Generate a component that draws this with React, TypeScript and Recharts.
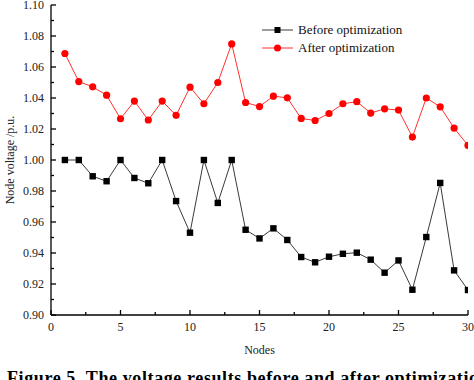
import { LineChart, Line, XAxis, YAxis, Legend } from "recharts";

const FONT = "'Liberation Serif', 'Times New Roman', serif";

// node voltage (p.u.) for nodes 1..30
const NODES = [
  1, 2, 3, 4, 5, 6, 7, 8, 9, 10, 11, 12, 13, 14, 15, 16, 17, 18, 19, 20, 21,
  22, 23, 24, 25, 26, 27, 28, 29, 30,
];
const BEFORE = [
  1.0, 1.0, 0.9895, 0.9863, 1.0, 0.9884, 0.985, 1.0, 0.9735, 0.9531, 1.0,
  0.9723, 1.0, 0.955, 0.9494, 0.9559, 0.9484, 0.9374, 0.934, 0.9376, 0.9395,
  0.9402, 0.9357, 0.9273, 0.9352, 0.9163, 0.9503, 0.9852, 0.9288, 0.9161,
];
const AFTER = [
  1.0687, 1.0506, 1.0472, 1.0418, 1.0266, 1.038, 1.0258, 1.038, 1.0288, 1.047,
  1.0363, 1.05, 1.0749, 1.0371, 1.0345, 1.0412, 1.0401, 1.0268, 1.0255, 1.03,
  1.0363, 1.0376, 1.0303, 1.033, 1.0322, 1.0148, 1.04, 1.0343, 1.0206, 1.0094,
];

const X_TICKS = [0, 2.5, 5, 7.5, 10, 12.5, 15, 17.5, 20, 22.5, 25, 27.5, 30];
const Y_TICKS = [
  0.9, 0.91, 0.92, 0.93, 0.94, 0.95, 0.96, 0.97, 0.98, 0.99, 1.0, 1.01, 1.02,
  1.03, 1.04, 1.05, 1.06, 1.07, 1.08, 1.09, 1.1,
];

const SERIES = [
  { key: "before", name: "Before optimization", color: "#3a3a3a", dotColor: "#000", shape: "square" },
  { key: "after", name: "After optimization", color: "#ff3030", dotColor: "#f00", shape: "circle" },
];

const data = NODES.map((node, i) => ({ node, before: BEFORE[i], after: AFTER[i] }));

function XTick(props: any) {
  const { x, y, payload } = props;
  const v = payload.value;
  const major = Number.isInteger(v);
  return (
    <g>
      <line x1={x} x2={x} y1={y} y2={y - (major ? 5 : 3)} stroke="#000" strokeWidth={1.3} />
      {major && (
        <text x={x} y={y + 16} textAnchor="middle" fontSize={12} fontFamily={FONT} fill="#222">
          {v}
        </text>
      )}
    </g>
  );
}

function YTick(props: any) {
  const { x, y, payload } = props;
  const v = payload.value;
  const major = Math.round(v * 100) % 2 === 0;
  return (
    <g>
      <line x1={x} x2={x + (major ? 5 : 3)} y1={y} y2={y} stroke="#000" strokeWidth={1.3} />
      {major && (
        <text x={x - 7} y={y} dy="0.35em" textAnchor="end" fontSize={12} fontFamily={FONT} fill="#222">
          {v.toFixed(2)}
        </text>
      )}
    </g>
  );
}

function SquareDot(props: any) {
  const { cx, cy, index } = props;
  return <rect key={"sq" + index} x={cx - 3.2} y={cy - 3.2} width={6.4} height={6.4} fill="#000" />;
}

function renderLegend() {
  return (
    <div style={{ fontFamily: FONT, fontSize: 13, color: "#111" }}>
      {SERIES.map((s) => (
        <div key={s.key} style={{ display: "flex", alignItems: "center", height: 18 }}>
          <svg width={32} height={10}>
            <line x1={0} x2={31} y1={5} y2={5} stroke={s.color} strokeWidth={1} />
            {s.shape === "square" ? (
              <rect x={12.5} y={2} width={6} height={6} fill={s.dotColor} />
            ) : (
              <circle cx={15.5} cy={5} r={3.5} fill={s.dotColor} />
            )}
          </svg>
          <span style={{ marginLeft: 4 }}>{s.name}</span>
        </div>
      ))}
    </div>
  );
}

export default function App() {
  return (
    <div
      style={{
        position: "absolute",
        left: 0,
        top: 0,
        width: 474,
        height: 380,
        overflow: "hidden",
        background: "#fff",
      }}
    >
      <LineChart width={474} height={380} data={data} margin={{ top: 5, right: 6, bottom: 35, left: 0 }}>
        <XAxis
          dataKey="node"
          type="number"
          domain={[0, 30]}
          ticks={X_TICKS}
          interval={0}
          allowDataOverflow
          height={30}
          tickSize={0}
          tickMargin={0}
          tick={<XTick />}
          axisLine={{ stroke: "#000", strokeWidth: 1.3 }}
          label={{ value: "Nodes", position: "bottom", offset: 0, fontSize: 12, fontFamily: FONT, fill: "#222" }}
        />
        <YAxis
          type="number"
          domain={[0.9, 1.1]}
          ticks={Y_TICKS}
          interval={0}
          allowDataOverflow
          width={51}
          tickSize={0}
          tickMargin={0}
          tick={<YTick />}
          axisLine={{ stroke: "#000", strokeWidth: 1.3 }}
          label={{
            value: "Node voltage /p.u.",
            angle: -90,
            position: "insideLeft",
            offset: 10,
            fontSize: 12,
            fontFamily: FONT,
            fill: "#222",
            style: { textAnchor: "middle" },
          }}
        />
        <Legend
          layout="horizontal"
          verticalAlign="middle"
          content={renderLegend}
          wrapperStyle={{ position: "absolute", top: 21, left: 262, width: "auto" }}
        />
        <Line
          dataKey="before"
          name="Before optimization"
          stroke="#3a3a3a"
          strokeWidth={1}
          dot={SquareDot}
          activeDot={false}
          isAnimationActive={false}
        />
        <Line
          dataKey="after"
          name="After optimization"
          stroke="#ff3030"
          strokeWidth={1}
          dot={{ r: 3.6, fill: "#f00", stroke: "#f00", strokeWidth: 0 }}
          activeDot={false}
          isAnimationActive={false}
        />
      </LineChart>
      <div
        style={{
          position: "absolute",
          top: 369,
          left: 7,
          fontFamily: FONT,
          fontWeight: "bold",
          fontSize: 18,
          lineHeight: "18px",
          letterSpacing: 0.6,
          whiteSpace: "nowrap",
          color: "#000",
        }}
      >
        Figure 5. The voltage results before and after optimization
      </div>
    </div>
  );
}
